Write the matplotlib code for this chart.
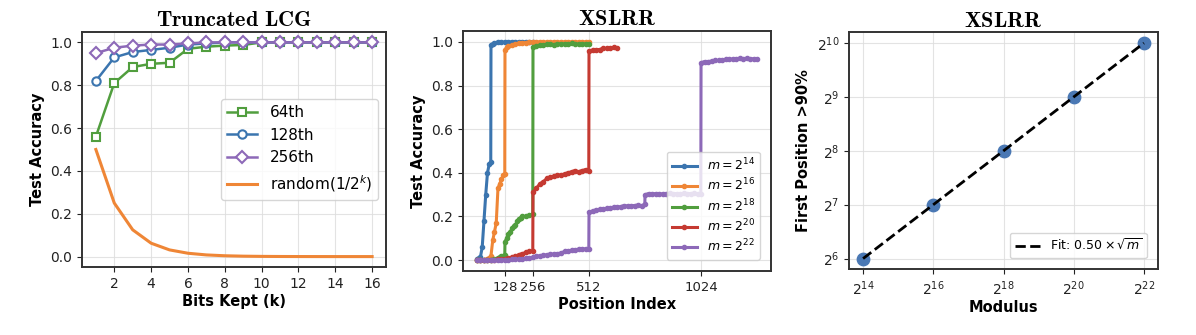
import numpy as np
import matplotlib
matplotlib.use('Agg')
import matplotlib.pyplot as plt

# ---------------- data ----------------
# panel 1: truncated LCG
bits_kept = list(range(1, 17))
acc_64th = [0.56, 0.81, 0.885, 0.90, 0.905, 0.97, 0.98, 0.985, 0.988, 1.0, 1.0, 1.0, 1.0, 1.0, 1.0, 1.0]
acc_128th = [0.82, 0.93, 0.955, 0.965, 0.975, 0.99, 0.995, 1.0, 1.0, 1.0, 1.0, 1.0, 1.0, 1.0, 1.0, 1.0]
acc_256th = [0.95, 0.975, 0.985, 0.99, 0.99, 0.995, 1.0, 1.0, 1.0, 1.0, 1.0, 1.0, 1.0, 1.0, 1.0, 1.0]
acc_random = [0.5, 0.25, 0.125, 0.0625, 0.03125, 0.015625, 0.0078, 0.0039, 0.00195, 0.00098,
              0.00049, 0.00024, 0.00012, 0.00006, 0.00003, 0.000015]

# panel 2: XSLRR accuracy per position
pos_14 = [0, 8, 16, 24, 32, 40, 48, 56, 63, 64, 72, 80, 96, 112, 128, 144, 160, 176, 192, 208, 224, 240, 256]
acc_14 = [0.005, 0.01, 0.015, 0.06, 0.18, 0.30, 0.40, 0.44, 0.45, 0.985, 0.99, 0.995, 1.0, 0.998, 1.0,
          1.0, 1.0, 0.999, 1.0, 1.0, 1.0, 1.0, 1.0]

pos_16 = [0, 16, 32, 48, 56, 64, 72, 80, 88, 96, 104, 112, 120, 127, 128, 136, 144, 160, 176, 192,
          208, 224, 240, 256, 272, 288, 304, 320, 336, 352, 368, 384, 400, 416, 432, 448, 464, 480, 496, 512]
acc_16 = [0.0, 0.0, 0.0, 0.005, 0.01, 0.02, 0.09, 0.13, 0.17, 0.33, 0.35, 0.37, 0.39, 0.395, 0.965,
          0.975, 0.98, 0.985, 0.99, 0.993, 0.995, 0.997, 1.0, 0.998, 1.0, 1.0, 0.999, 1.0, 1.0, 1.0,
          0.999, 1.0, 1.0, 1.0, 1.0, 0.999, 1.0, 1.0, 1.0, 1.0]

pos_18 = [0, 16, 32, 48, 64, 80, 96, 104, 112, 120, 127, 128, 136, 144, 152, 160, 168, 176, 184, 192,
          200, 208, 224, 240, 255, 256, 272, 288, 304, 320, 336, 352, 368, 384, 400, 416, 432, 448,
          464, 480, 496, 512]
acc_18 = [0.0, 0.0, 0.0, 0.0, 0.002, 0.005, 0.01, 0.015, 0.02, 0.02, 0.025, 0.085, 0.10, 0.12, 0.13,
          0.145, 0.155, 0.16, 0.18, 0.19, 0.195, 0.20, 0.20, 0.205, 0.21, 0.975, 0.98, 0.985, 0.985,
          0.99, 0.99, 0.988, 0.99, 0.992, 0.99, 0.99, 0.993, 0.99, 0.99, 0.992, 0.99, 0.99]

pos_20 = [0, 16, 32, 48, 64, 80, 96, 112, 128, 144, 160, 176, 192, 208, 224, 240, 255, 256, 272, 288,
          304, 320, 336, 352, 368, 384, 400, 416, 432, 448, 464, 480, 496, 511, 512, 528, 544, 560,
          576, 592, 608, 624, 640]
acc_20 = [0.0, 0.0, 0.0, 0.0, 0.0, 0.002, 0.004, 0.005, 0.007, 0.01, 0.012, 0.018, 0.025, 0.03, 0.035,
          0.04, 0.042, 0.31, 0.33, 0.35, 0.36, 0.375, 0.38, 0.385, 0.39, 0.39, 0.395, 0.40, 0.405, 0.41,
          0.405, 0.41, 0.415, 0.41, 0.96, 0.962, 0.965, 0.965, 0.97, 0.97, 0.972, 0.975, 0.97]

pos_22 = [0, 16, 32, 48, 64, 80, 96, 112, 128, 144, 160, 176, 192, 208, 224, 240, 256, 272, 288, 304,
          320, 336, 352, 368, 384, 400, 416, 432, 448, 464, 480, 496, 511, 512, 528, 544, 560, 576,
          592, 608, 624, 640, 656, 672, 688, 704, 720, 736, 752, 767, 768, 784, 800, 816, 832, 848,
          864, 880, 896, 912, 928, 944, 960, 976, 992, 1008, 1023, 1024, 1040, 1056, 1072, 1088,
          1104, 1120, 1136, 1152, 1168, 1184, 1200, 1216, 1232, 1248, 1264, 1280]
acc_22 = [0.0, 0.0, 0.0, 0.0, 0.0, 0.0, 0.001, 0.001, 0.002, 0.002, 0.003, 0.003, 0.004, 0.005, 0.008,
          0.01, 0.012, 0.018, 0.02, 0.022, 0.025, 0.027, 0.028, 0.03, 0.032, 0.04, 0.042, 0.045, 0.047,
          0.05, 0.05, 0.052, 0.05, 0.22, 0.225, 0.23, 0.232, 0.235, 0.237, 0.24, 0.242, 0.243, 0.245,
          0.25, 0.248, 0.25, 0.25, 0.252, 0.25, 0.255, 0.30, 0.305, 0.303, 0.305, 0.305, 0.303, 0.305,
          0.306, 0.305, 0.305, 0.304, 0.306, 0.305, 0.305, 0.306, 0.305, 0.305, 0.905, 0.91, 0.91,
          0.912, 0.915, 0.915, 0.918, 0.92, 0.92, 0.922, 0.923, 0.925, 0.923, 0.925, 0.922, 0.923, 0.922]

# panel 3: first position above 90%
modulus = [2**14, 2**16, 2**18, 2**20, 2**22]
first_pos = [64, 128, 256, 512, 1024]
fit_pos = [64, 128, 256, 512, 1024]

# ---------------- style ----------------
c_blue = '#3b75af'
c_orange = '#ef8636'
c_green = '#519e3e'
c_red = '#c53a32'
c_purple = '#8d69b8'

plt.rcParams['font.family'] = 'DejaVu Sans'
TICK = 10
LAB = 10.5
TITLE = 16


def style_ax(ax):
    for s in ax.spines.values():
        s.set_color('#333333')
        s.set_linewidth(1.4)
    ax.grid(True, color='#dddddd', linewidth=0.8, alpha=0.8)
    ax.set_axisbelow(True)
    ax.tick_params(labelsize=TICK, colors='#222222')


fig = plt.figure(figsize=(11.96, 3.35), dpi=100)
ax1 = fig.add_axes([0.0686, 0.2021, 0.2541, 0.7033])
ax2 = fig.add_axes([0.3871, 0.1910, 0.2576, 0.7165])
ax3 = fig.add_axes([0.7099, 0.1960, 0.2583, 0.7076])

# ---- panel 1 ----
ax1.plot(bits_kept, acc_64th, color=c_green, lw=1.8, marker='s', ms=6, mfc='white', mew=1.5, label='64th')
ax1.plot(bits_kept, acc_128th, color=c_blue, lw=1.8, marker='o', ms=6, mfc='white', mew=1.5, label='128th')
ax1.plot(bits_kept, acc_256th, color=c_purple, lw=1.8, marker='D', ms=6, mfc='white', mew=1.5, label='256th')
ax1.plot(bits_kept, acc_random, color=c_orange, lw=2.2, label='random(1/2$^k$)')
ax1.set_xticks([2, 4, 6, 8, 10, 12, 14, 16])
ax1.set_yticks([0.0, 0.2, 0.4, 0.6, 0.8, 1.0])
ax1.set_xlabel('Bits Kept (k)', fontsize=LAB, fontweight='bold', labelpad=2)
ax1.set_ylabel('Test Accuracy', fontsize=LAB, fontweight='bold')
ax1.set_title(r'$\mathbf{Truncated\ LCG}$', fontsize=TITLE, math_fontfamily='cm', pad=4)
style_ax(ax1)
ax1.legend(loc='center right', fontsize=11)

# ---- panel 2 ----
series = [(pos_14, acc_14, c_blue, r'$m = 2^{14}$'),
          (pos_16, acc_16, c_orange, r'$m = 2^{16}$'),
          (pos_18, acc_18, c_green, r'$m = 2^{18}$'),
          (pos_20, acc_20, c_red, r'$m = 2^{20}$'),
          (pos_22, acc_22, c_purple, r'$m = 2^{22}$')]
for xs, ys, col, lab in series:
    ax2.plot(xs, ys, color=col, lw=2.2, marker='o', ms=3, label=lab)
ax2.set_xticks([128, 256, 512, 1024])
ax2.set_yticks([0.0, 0.2, 0.4, 0.6, 0.8, 1.0])
ax2.set_xlabel('Position Index', fontsize=LAB, fontweight='bold', labelpad=2)
ax2.set_ylabel('Test Accuracy', fontsize=LAB, fontweight='bold')
ax2.set_title(r'$\mathbf{XSLRR}$', fontsize=TITLE, math_fontfamily='cm', pad=4)
style_ax(ax2)
ax2.tick_params(axis='x', labelsize=9.5)
ax2.legend(loc='lower right', fontsize=9, labelspacing=0.3, borderaxespad=0.9)

# ---- panel 3 ----
ax3.set_xscale('log', base=2)
ax3.set_yscale('log', base=2)
ax3.plot(modulus, fit_pos, color='black', lw=2, ls='--', label=r'Fit: $0.50 \times \sqrt{m}$', zorder=3)
ax3.scatter(modulus, first_pos, s=80, color='#4a78b4', zorder=2)
ax3.set_xticks(modulus)
ax3.set_xticklabels(['$2^{14}$', '$2^{16}$', '$2^{18}$', '$2^{20}$', '$2^{22}$'])
ax3.set_yticks(first_pos)
ax3.set_yticklabels(['$2^{6}$', '$2^{7}$', '$2^{8}$', '$2^{9}$', '$2^{10}$'])
ax3.minorticks_off()
ax3.set_xlabel('Modulus', fontsize=LAB, fontweight='bold', labelpad=2)
ax3.set_ylabel('First Position >90%', fontsize=LAB, fontweight='bold')
ax3.set_title(r'$\mathbf{XSLRR}$', fontsize=TITLE, math_fontfamily='cm', pad=4)
style_ax(ax3)
ax3.legend(loc='lower right', fontsize=9, borderaxespad=0.9)

plt.savefig('out.png', dpi=100)
